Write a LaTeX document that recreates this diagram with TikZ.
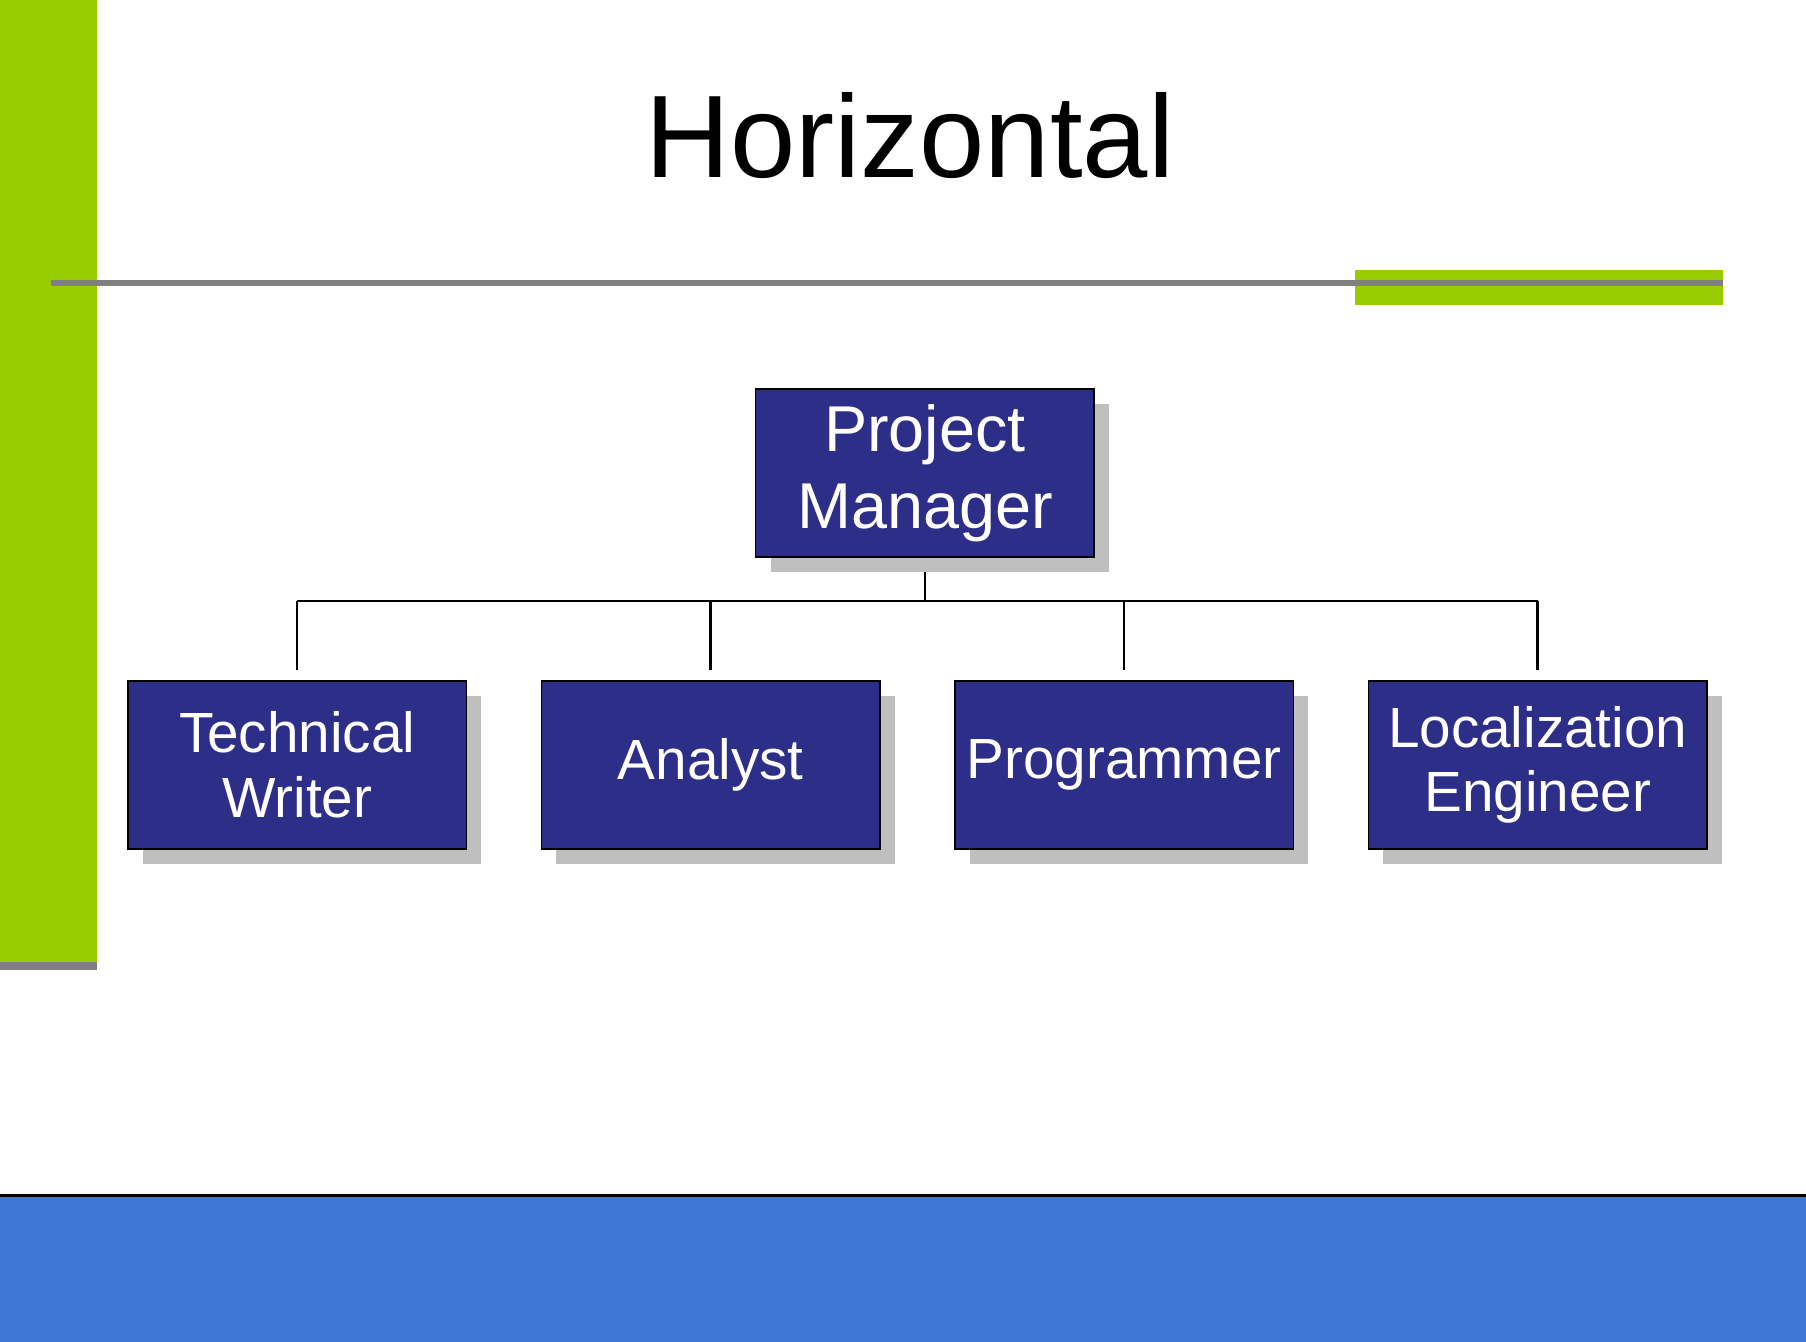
\documentclass[tikz,border=0pt]{standalone}
\usepackage{fontspec}
\setmainfont{Liberation Sans}
\usetikzlibrary{positioning, calc, shadows}
\definecolor{leaf}{HTML}{99CC00}
\definecolor{boxblue}{HTML}{2D2E88}
\definecolor{band}{HTML}{4076D6}

\begin{document}
\begin{tikzpicture}[
  role/.style={rectangle, draw=black, fill=boxblue, text=white, align=center,
    minimum width=2.94cm, minimum height=1.46cm, inner sep=0pt, outer sep=0pt,
    font=\fontsize{14}{16}\selectfont,
    drop shadow={shadow xshift=0.13cm, shadow yshift=-0.13cm, fill=black!25, opacity=1}},
  boss/.style={role, font=\fontsize{16}{19}\selectfont},
  wire/.style={draw=black, line width=0.6pt}
]
    \useasboundingbox (0,0) rectangle (15.68,-11.65);

    % Slide decoration
    \fill[black!50] (0,-8.35) rectangle (0.84,-8.42);
    \fill[leaf] (0,0) rectangle (0.84,-8.35);
    \fill[leaf] (11.76,-2.34) rectangle (14.96,-2.65);
    \draw[black!50, line width=1.5pt] (0.44,-2.46) -- (14.96,-2.46);
    \fill[band] (0,-10.38) rectangle (15.68,-11.65);
    \draw[black, line width=0.6pt] (0,-10.38) -- (15.68,-10.38);

    % Title
    \node[font=\fontsize{29}{34}\selectfont] (title) at (7.9,-1.18) {Horizontal};

    % Boxes
    \node[boss] (pm) at (8.03,-4.105) {Project\\Manager};
    \node[role] (c1) at (2.58,-6.64) {Technical\\Writer};
    \node[role, right=0.65cm of c1] (c2) {Analyst};
    \node[role, right=0.65cm of c2] (c3) {Programmer};
    \node[role, right=0.65cm of c3] (c4) {Localization\\Engineer};

    % Connectors
    \coordinate (bus) at (8.03,-5.22);
    \draw[wire] ([yshift=-1.3mm]pm.south) -- (bus);
    \draw[wire] (c1.north |- bus) -- (c4.north |- bus);
    \foreach \c in {c1, c2, c3, c4}
      \draw[wire] (\c.north |- bus) -- ([yshift=0.9mm]\c.north);

\end{tikzpicture}
\end{document}
